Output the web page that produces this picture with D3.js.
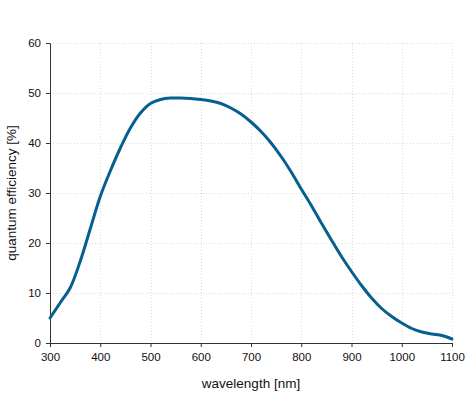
<!DOCTYPE html>
<html>
<head>
<meta charset="utf-8">
<script src="https://cdn.jsdelivr.net/npm/d3@7"></script>
<style>
  body { margin: 0; background: #fff; }
  svg { display: block; font-family: "Liberation Sans", Arial, sans-serif; }
</style>
</head>
<body>
<svg width="474" height="393"></svg>
<script>
// wavelength [nm] and quantum efficiency [%]
const wavelength = [300, 320, 340, 360, 380, 400, 420, 440, 460, 480, 500, 520, 540, 560, 580, 600,
  620, 640, 660, 680, 700, 720, 740, 760, 780, 800, 820, 840, 860, 880, 900, 920, 940, 960, 980,
  1000, 1020, 1040, 1060, 1080, 1100]
const efficiency = [5.0, 8.0, 11.0, 16.3, 22.8, 29.3, 34.4, 39.0, 43.0, 46.0, 47.9, 48.7, 49.0, 49.0, 48.9, 48.7,
  48.4, 47.9, 47.0, 45.8, 44.2, 42.3, 40.0, 37.3, 34.2, 30.8, 27.5, 24.0, 20.6, 17.3, 14.3, 11.5, 9.0, 6.9, 5.3,
  4.0, 2.9, 2.2, 1.8, 1.5, 0.8]
const xTicks = [300, 400, 500, 600, 700, 800, 900, 1000, 1100]
const yTicks = [0, 10, 20, 30, 40, 50, 60]

const data = wavelength.map((w, i) => ({ w, q: efficiency[i] }))

const svg = d3.select('svg')
const marginLeft = 50, marginRight = 22, marginTop = 43, marginBottom = 50
const width = 474, height = 393
const innerWidth = width - marginLeft - marginRight
const innerHeight = height - marginTop - marginBottom

const xScale = d3.scaleLinear().domain([300, 1100]).range([0, innerWidth])
const yScale = d3.scaleLinear().domain([0, 60]).range([innerHeight, 0])

const plot = svg.append('g').attr('transform', `translate(${marginLeft}, ${marginTop})`)

// dotted grid
const grid = plot.append('g').attr('class', 'grid')
grid.selectAll('line.h')
  .data(yTicks.filter(d => d > 0))
  .join('line')
  .attr('class', 'h')
  .attr('x1', 0).attr('x2', innerWidth)
  .attr('y1', d => Math.round(yScale(d)) + 0.5)
  .attr('y2', d => Math.round(yScale(d)) + 0.5)
grid.selectAll('line.v')
  .data(xTicks.filter(d => d > 300))
  .join('line')
  .attr('class', 'v')
  .attr('y1', 0).attr('y2', innerHeight)
  .attr('x1', d => Math.round(xScale(d)) + 0.5)
  .attr('x2', d => Math.round(xScale(d)) + 0.5)
grid.selectAll('line')
  .attr('stroke', '#dcdcdc')
  .attr('stroke-width', 1)
  .attr('stroke-dasharray', '1,2')

// axes
const xAxis = d3.axisBottom(xScale).tickValues(xTicks).tickFormat(d3.format('d'))
  .tickSizeOuter(0).tickSize(4).tickPadding(6)
const yAxis = d3.axisLeft(yScale).tickValues(yTicks).tickFormat(d3.format('d'))
  .tickSizeOuter(0).tickSize(4).tickPadding(5)

const xAxisContainer = plot.append('g')
  .attr('transform', `translate(0, ${innerHeight})`)
  .call(xAxis)
const yAxisContainer = plot.append('g').call(yAxis)

for (const c of [xAxisContainer, yAxisContainer]) {
  c.select('.domain').attr('stroke', '#333')
  c.selectAll('.tick line').attr('stroke', '#333')
  c.selectAll('.tick text')
    .attr('fill', '#111')
    .style('font-size', '11.5px')
    .style('font-family', '"Liberation Sans", Arial, sans-serif')
}

// curve
const line = d3.line()
  .x(d => xScale(d.w))
  .y(d => yScale(d.q))
  .curve(d3.curveCatmullRom.alpha(0.5))

plot.append('path')
  .datum(data)
  .attr('fill', 'none')
  .attr('stroke', '#065f8e')
  .attr('stroke-width', 3)
  .attr('stroke-linejoin', 'round')
  .attr('stroke-linecap', 'round')
  .attr('d', line)

// axis titles
svg.append('text')
  .attr('x', marginLeft + innerWidth / 2)
  .attr('y', 388)
  .attr('text-anchor', 'middle')
  .attr('fill', '#111')
  .style('font-size', '13.5px')
  .text('wavelength [nm]')

svg.append('text')
  .attr('transform', `translate(16, ${marginTop + innerHeight / 2}) rotate(-90)`)
  .attr('text-anchor', 'middle')
  .attr('fill', '#111')
  .style('font-size', '13.5px')
  .text('quantum efficiency [%]')
</script>
</body>
</html>
